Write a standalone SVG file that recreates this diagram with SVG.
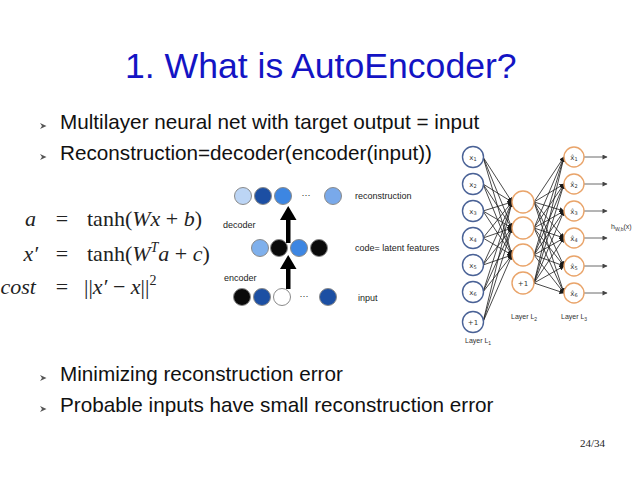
<svg xmlns="http://www.w3.org/2000/svg" width="638" height="479" viewBox="0 0 638 479">
<defs>
<style>
.title{font-family:"Liberation Sans",Arial,sans-serif;font-size:35.6px;fill:#1414c4}
.bul{font-family:"Liberation Sans",Arial,sans-serif;font-size:20.7px;fill:#111}
.mk{fill:#555}
.eq{font-family:"Liberation Serif","Times New Roman",serif;font-size:22px;fill:#222}
.it{font-style:italic}
.lab{font-family:"Liberation Sans",Arial,sans-serif;font-size:9px;fill:#222}
.c{stroke:#8a8a8a;stroke-width:1}
.n1{fill:#fff;stroke:#4a6296;stroke-width:1.4}
.n2{fill:#fff;stroke:#e9a46a;stroke-width:1.4}
.nt{font-family:"DejaVu Sans","Liberation Sans",sans-serif;font-size:7px;fill:#333;text-anchor:middle}
.sm{font-family:"Liberation Sans",Arial,sans-serif;font-size:7px;fill:#333}
.w{stroke:#1a1a1a;stroke-width:0.8;fill:none;marker-end:url(#ah)}
.pg{font-family:"Liberation Serif","Times New Roman",serif;font-size:11px;fill:#222}
</style>
<marker id="ah" viewBox="0 0 10 10" refX="9" refY="5" markerWidth="5" markerHeight="5" markerUnits="userSpaceOnUse" orient="auto"><path d="M0,0 L10,5 L0,10 Z" fill="#1a1a1a"/></marker>
<marker id="ah2" viewBox="0 0 10 10" refX="9" refY="5" markerWidth="6" markerHeight="5" markerUnits="userSpaceOnUse" orient="auto"><path d="M0,0 L10,5 L0,10 Z" fill="#444"/></marker>
</defs>
<rect width="638" height="479" fill="#fff"/>

<g id="title"><text class="title" x="125" y="78">1. What is AutoEncoder?</text></g>

<g id="bullets">
<path class="mk" d="M40,123 L46.5,126 L40,129 L42,126 Z"/>
<text class="bul" x="60" y="129">Multilayer neural net with target output = input</text>
<path class="mk" d="M40,154 L46.5,157 L40,160 L42,157 Z"/>
<text class="bul" x="60" y="160">Reconstruction=decoder(encoder(input))</text>
<path class="mk" d="M40,375 L46.5,378 L40,381 L42,378 Z"/>
<text class="bul" x="60" y="381">Minimizing reconstruction error</text>
<path class="mk" d="M40,406 L46.5,409 L40,412 L42,409 Z"/>
<text class="bul" x="60" y="412">Probable inputs have small reconstruction error</text>
</g>

<g id="equations">
<text class="eq it" x="36" y="226" text-anchor="end">a</text>
<text class="eq" x="62" y="226" text-anchor="middle">=</text>
<text class="eq" x="87" y="226">tanh(<tspan class="it">Wx</tspan> + <tspan class="it">b</tspan>)</text>
<text class="eq it" x="38" y="261" text-anchor="end">x′</text>
<text class="eq" x="62" y="261" text-anchor="middle">=</text>
<text class="eq" x="87" y="261">tanh(<tspan class="it">W</tspan><tspan class="it" font-size="14" dy="-9">T</tspan><tspan class="it" dy="9">a</tspan> + <tspan class="it">c</tspan>)</text>
<text class="eq it" x="36" y="294" text-anchor="end">cost</text>
<text class="eq" x="62" y="294" text-anchor="middle">=</text>
<text class="eq" x="84" y="294">||<tspan class="it">x′</tspan> − <tspan class="it">x</tspan>||<tspan font-size="14" dy="-9">2</tspan></text>
</g>

<g id="ae-diagram">
<g id="row-reconstruction">
<circle class="c" cx="243" cy="196" r="8.5" fill="#bcd5f5"/>
<circle class="c" cx="263" cy="196" r="8.5" fill="#1c4fa3"/>
<circle class="c" cx="283" cy="196" r="8.5" fill="#3d86e2"/>
<text class="lab" x="306" y="198" text-anchor="middle">···</text>
<circle class="c" cx="333" cy="196" r="8.5" fill="#79a9ea"/>
<text class="lab" x="355" y="199">reconstruction</text>
</g>
<g id="row-code">
<circle class="c" cx="260" cy="248" r="8.5" fill="#7fb0ec"/>
<circle class="c" cx="279" cy="248" r="8.5" fill="#0a0a0a"/>
<circle class="c" cx="299" cy="248" r="8.5" fill="#3d86e2"/>
<circle class="c" cx="319" cy="248" r="8.5" fill="#0a0a0a"/>
<text class="lab" x="355" y="251">code= latent features</text>
</g>
<g id="row-input">
<circle class="c" cx="242" cy="297" r="8.5" fill="#0a0a0a"/>
<circle class="c" cx="262" cy="297" r="8.5" fill="#1c4fa3"/>
<circle class="c" cx="282" cy="297" r="8.5" fill="#fff"/>
<text class="lab" x="304" y="299" text-anchor="middle">···</text>
<circle class="c" cx="328" cy="297" r="8.5" fill="#1c4fa3"/>
<text class="lab" x="358" y="301">input</text>
</g>
<text class="lab" x="223" y="228">decoder</text>
<text class="lab" x="224" y="281">encoder</text>
<g id="ae-arrows">
<rect x="286" y="218" width="4.5" height="25" fill="#000"/>
<path d="M280,220 L296.5,220 L288.2,206 Z" fill="#000"/>
<rect x="286" y="267" width="4.5" height="22" fill="#000"/>
<path d="M280,269 L296.5,269 L288.2,255 Z" fill="#000"/>
</g>
</g>

<g id="connectors">
<line class="w" x1="483" y1="157" x2="512" y2="202"/><line class="w" x1="483" y1="157" x2="512" y2="228"/><line class="w" x1="483" y1="157" x2="512" y2="255"/>
<line class="w" x1="483" y1="184" x2="512" y2="202"/><line class="w" x1="483" y1="184" x2="512" y2="228"/><line class="w" x1="483" y1="184" x2="512" y2="255"/>
<line class="w" x1="483" y1="211" x2="512" y2="202"/><line class="w" x1="483" y1="211" x2="512" y2="228"/><line class="w" x1="483" y1="211" x2="512" y2="255"/>
<line class="w" x1="483" y1="238" x2="512" y2="202"/><line class="w" x1="483" y1="238" x2="512" y2="228"/><line class="w" x1="483" y1="238" x2="512" y2="255"/>
<line class="w" x1="483" y1="265" x2="512" y2="202"/><line class="w" x1="483" y1="265" x2="512" y2="228"/><line class="w" x1="483" y1="265" x2="512" y2="255"/>
<line class="w" x1="483" y1="292" x2="512" y2="202"/><line class="w" x1="483" y1="292" x2="512" y2="228"/><line class="w" x1="483" y1="292" x2="512" y2="255"/>
<line class="w" x1="483" y1="322" x2="512" y2="202"/><line class="w" x1="483" y1="322" x2="512" y2="228"/><line class="w" x1="483" y1="322" x2="512" y2="255"/>
<line class="w" x1="534" y1="202" x2="564" y2="157"/><line class="w" x1="534" y1="202" x2="564" y2="184"/><line class="w" x1="534" y1="202" x2="564" y2="211"/><line class="w" x1="534" y1="202" x2="564" y2="238"/><line class="w" x1="534" y1="202" x2="564" y2="266"/><line class="w" x1="534" y1="202" x2="564" y2="293"/>
<line class="w" x1="534" y1="228" x2="564" y2="157"/><line class="w" x1="534" y1="228" x2="564" y2="184"/><line class="w" x1="534" y1="228" x2="564" y2="211"/><line class="w" x1="534" y1="228" x2="564" y2="238"/><line class="w" x1="534" y1="228" x2="564" y2="266"/><line class="w" x1="534" y1="228" x2="564" y2="293"/>
<line class="w" x1="534" y1="255" x2="564" y2="157"/><line class="w" x1="534" y1="255" x2="564" y2="184"/><line class="w" x1="534" y1="255" x2="564" y2="211"/><line class="w" x1="534" y1="255" x2="564" y2="238"/><line class="w" x1="534" y1="255" x2="564" y2="266"/><line class="w" x1="534" y1="255" x2="564" y2="293"/>
<line class="w" x1="534" y1="283" x2="564" y2="157"/><line class="w" x1="534" y1="283" x2="564" y2="184"/><line class="w" x1="534" y1="283" x2="564" y2="211"/><line class="w" x1="534" y1="283" x2="564" y2="238"/><line class="w" x1="534" y1="283" x2="564" y2="266"/><line class="w" x1="534" y1="283" x2="564" y2="293"/>
<line class="w" style="stroke:#444;marker-end:url(#ah2)" x1="584" y1="157" x2="607" y2="157"/>
<line class="w" style="stroke:#444;marker-end:url(#ah2)" x1="584" y1="184" x2="607" y2="184"/>
<line class="w" style="stroke:#444;marker-end:url(#ah2)" x1="584" y1="211" x2="607" y2="211"/>
<line class="w" style="stroke:#444;marker-end:url(#ah2)" x1="584" y1="238" x2="607" y2="238"/>
<line class="w" style="stroke:#444;marker-end:url(#ah2)" x1="584" y1="266" x2="607" y2="266"/>
<line class="w" style="stroke:#444;marker-end:url(#ah2)" x1="584" y1="293" x2="607" y2="293"/>
</g>

<g id="layer1">
<g id="x1"><circle class="n1" cx="473" cy="157" r="10.5"/><text class="nt" x="473" y="159.5">x<tspan font-size="5" dy="1.5">1</tspan></text></g>
<g id="x2"><circle class="n1" cx="473" cy="184" r="10.5"/><text class="nt" x="473" y="186.5">x<tspan font-size="5" dy="1.5">2</tspan></text></g>
<g id="x3"><circle class="n1" cx="473" cy="211" r="10.5"/><text class="nt" x="473" y="213.5">x<tspan font-size="5" dy="1.5">3</tspan></text></g>
<g id="x4"><circle class="n1" cx="473" cy="238" r="10.5"/><text class="nt" x="473" y="240.5">x<tspan font-size="5" dy="1.5">4</tspan></text></g>
<g id="x5"><circle class="n1" cx="473" cy="265" r="10.5"/><text class="nt" x="473" y="267.5">x<tspan font-size="5" dy="1.5">5</tspan></text></g>
<g id="x6"><circle class="n1" cx="473" cy="292" r="10.5"/><text class="nt" x="473" y="294.5">x<tspan font-size="5" dy="1.5">6</tspan></text></g>
<g id="b1"><circle class="n1" cx="473" cy="322" r="10.5"/><text class="nt" x="473" y="324.5">+1</text></g>
<text class="sm" x="465" y="343">Layer L<tspan font-size="5" dy="1.5">1</tspan></text>
</g>

<g id="layer2">
<g id="h1"><circle class="n2" cx="523" cy="202" r="11"/></g>
<g id="h2"><circle class="n2" cx="523" cy="228" r="11"/></g>
<g id="h3"><circle class="n2" cx="523" cy="255" r="11"/></g>
<g id="b2"><circle class="n2" cx="523" cy="283" r="11"/><text class="nt" x="523" y="285.5">+1</text></g>
<text class="sm" x="511" y="319">Layer L<tspan font-size="5" dy="1.5">2</tspan></text>
</g>

<g id="layer3">
<g id="y1"><circle class="n2" cx="574" cy="157" r="10"/><text class="nt" x="574" y="159.5">x̂<tspan font-size="5" dy="1.5">1</tspan></text></g>
<g id="y2"><circle class="n2" cx="574" cy="184" r="10"/><text class="nt" x="574" y="186.5">x̂<tspan font-size="5" dy="1.5">2</tspan></text></g>
<g id="y3"><circle class="n2" cx="574" cy="211" r="10"/><text class="nt" x="574" y="213.5">x̂<tspan font-size="5" dy="1.5">3</tspan></text></g>
<g id="y4"><circle class="n2" cx="574" cy="238" r="10"/><text class="nt" x="574" y="240.5">x̂<tspan font-size="5" dy="1.5">4</tspan></text></g>
<g id="y5"><circle class="n2" cx="574" cy="266" r="10"/><text class="nt" x="574" y="268.5">x̂<tspan font-size="5" dy="1.5">5</tspan></text></g>
<g id="y6"><circle class="n2" cx="574" cy="293" r="10"/><text class="nt" x="574" y="295.5">x̂<tspan font-size="5" dy="1.5">6</tspan></text></g>
<text class="sm" x="561" y="319">Layer L<tspan font-size="5" dy="1.5">3</tspan></text>
<text class="sm" x="611" y="229">h<tspan font-size="5" dy="1.5">W,b</tspan><tspan dy="-1.5">(x)</tspan></text>
</g>

<g id="page"><text class="pg" x="580" y="447">24/34</text></g>
</svg>
